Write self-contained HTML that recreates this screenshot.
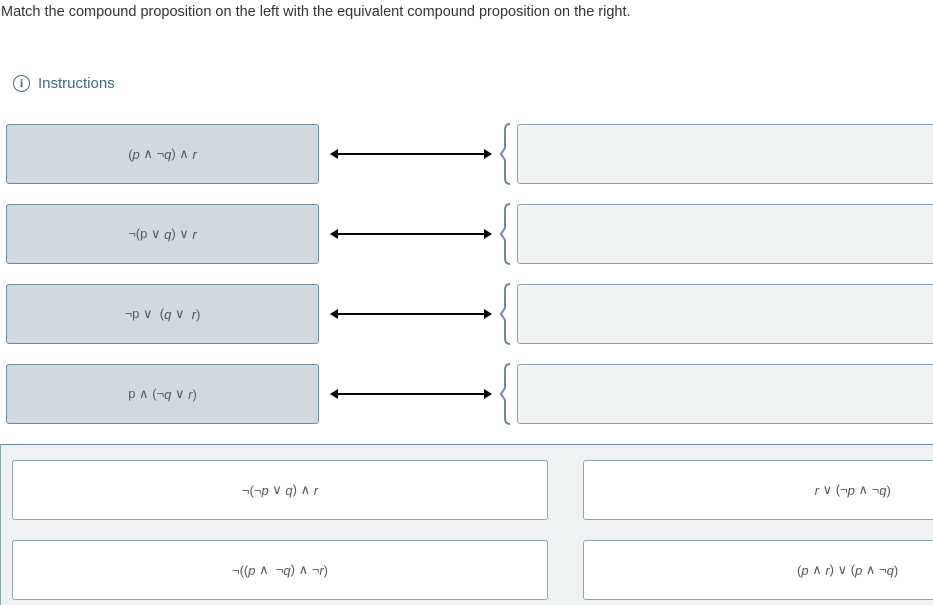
<!DOCTYPE html>
<html><head><style>
body{margin:0;width:933px;height:596px;overflow:hidden;background:#fff;font-family:"Liberation Sans","DejaVu Sans",sans-serif;position:relative}
.a{position:absolute}
.t{left:1px;top:4px;font-size:14.5px;color:#333}
.ins{left:13px;top:75px;font-size:15px;color:#3d6b80;display:flex;align-items:center}
.ins span.c{width:17px;height:17px;border:1.3px solid #3d6b80;border-radius:50%;font-size:12px;font-family:"Liberation Serif",serif;font-weight:bold;display:inline-flex;align-items:center;justify-content:center;margin-right:8px;box-sizing:border-box}
.l{left:6px;width:313px;height:60px;background:#d1dbdf;border:1px solid #6e8c99;border-radius:3px;display:flex;align-items:center;justify-content:center;font-size:13px;color:#555;box-sizing:border-box}
.r{left:517px;width:430px;height:60px;background:#eef2f3;border:1px solid #8ea4ad;border-radius:3px;box-sizing:border-box}
.ar{left:331px;width:160px;height:2px;background:#000}
.ar:before{content:"";position:absolute;left:-1px;top:-4px;border:5px solid transparent;border-right:8px solid #000;border-left:0}
.ar:after{content:"";position:absolute;right:-1px;top:-4px;border:5px solid transparent;border-left:8px solid #000;border-right:0}
.pan{left:0;top:444px;width:940px;height:160px;background:#eef2f3;border-top:1.5px solid #6e8c99;border-left:1px solid #8ea4ad}
.b{width:536px;height:60px;background:#fff;border:1px solid #8ea4ad;border-radius:3px;box-sizing:border-box;display:flex;align-items:center;justify-content:center;font-size:13px;color:#555}
i{font-style:italic}
</style></head><body>
<div class="a t">Match the compound proposition on the left with the equivalent compound proposition on the right.</div>
<div class="a ins"><span class="c">i</span>Instructions</div>

<div class="a l" style="top:124px">(<i>p</i>&nbsp;∧&nbsp;¬<i>q</i>)&nbsp;∧&nbsp;<i>r</i></div>
<div class="a l" style="top:204px">¬(p&nbsp;∨&nbsp;<i>q</i>)&nbsp;∨&nbsp;<i>r</i></div>
<div class="a l" style="top:284px">¬p&nbsp;∨&nbsp;&nbsp;(<i>q</i>&nbsp;∨&nbsp;&nbsp;<i>r</i>)</div>
<div class="a l" style="top:364px">p&nbsp;∧&nbsp;(¬<i>q</i>&nbsp;∨&nbsp;<i>r</i>)</div>

<div class="a ar" style="top:153px"></div>
<div class="a ar" style="top:233px"></div>
<div class="a ar" style="top:313px"></div>
<div class="a ar" style="top:393px"></div>

<svg class="a" style="left:0;top:0" width="933" height="444">
<g fill="none" stroke="#6e8c99" stroke-width="2">
<path d="M510 124 Q505 124 505 130 L505 148 L501 154 L505 160 L505 178 Q505 184 510 184"/>
<path d="M510 204 Q505 204 505 210 L505 228 L501 234 L505 240 L505 258 Q505 264 510 264"/>
<path d="M510 284 Q505 284 505 290 L505 308 L501 314 L505 320 L505 338 Q505 344 510 344"/>
<path d="M510 364 Q505 364 505 370 L505 388 L501 394 L505 400 L505 418 Q505 424 510 424"/>
</g></svg>

<div class="a r" style="top:124px"></div>
<div class="a r" style="top:204px"></div>
<div class="a r" style="top:284px"></div>
<div class="a r" style="top:364px"></div>

<div class="a pan"></div>
<div class="a b" style="left:12px;top:460px">¬(¬<i>p</i>&nbsp;∨&nbsp;<i>q</i>)&nbsp;∧&nbsp;<i>r</i></div>
<div class="a b" style="left:583px;top:460px;width:360px;justify-content:flex-start;padding-left:227px">&nbsp;<i>r</i>&nbsp;∨&nbsp;(¬<i>p</i>&nbsp;∧&nbsp;¬<i>q</i>)</div>
<div class="a b" style="left:12px;top:540px">¬((<i>p</i>&nbsp;∧&nbsp;&nbsp;¬<i>q</i>)&nbsp;∧&nbsp;¬<i>r</i>)</div>
<div class="a b" style="left:583px;top:540px;width:360px;justify-content:flex-start;padding-left:213px">(<i>p</i>&nbsp;∧&nbsp;<i>r</i>)&nbsp;∨&nbsp;(<i>p</i>&nbsp;∧&nbsp;¬<i>q</i>)</div>
</body></html>
